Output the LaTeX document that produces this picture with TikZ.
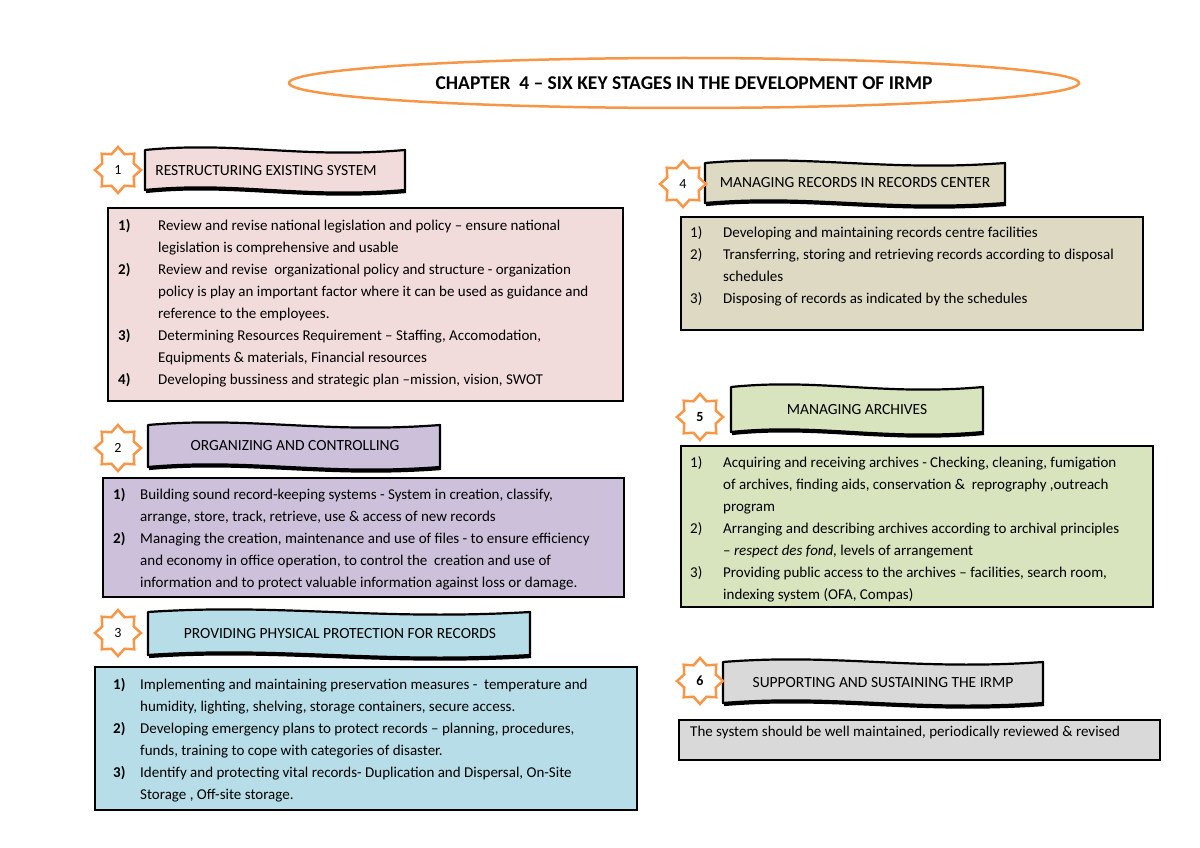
\documentclass[tikz,border=0pt]{standalone}
\usepackage{fontspec}
\setmainfont{Carlito}
\usetikzlibrary{shapes.geometric}
\definecolor{orng}{HTML}{F79646}
\definecolor{cA}{HTML}{F2DCDB}
\definecolor{cB}{HTML}{CCC0DA}
\definecolor{cC}{HTML}{B7DEE8}
\definecolor{cD}{HTML}{DDD9C3}
\definecolor{cE}{HTML}{D7E4BD}
\definecolor{cF}{HTML}{D9D9D9}
\newcommand\bnr[6]{% x1 y1 x2 y2 colour name
\begin{scope}[shift={(#1,#2)}]
\pgfmathsetmacro\bw{#3-#1}\pgfmathsetmacro\bh{#4-#2}
\draw[line width=2.2pt,fill=#5,line join=round] (0,0) .. controls ({\bw*0.35},-9) and ({\bw*0.6},9) .. (\bw,0) -- (\bw,\bh) .. controls ({\bw*0.6},\bh+9) and ({\bw*0.35},\bh-9) .. (0,\bh) -- cycle;
\draw[line width=3.2pt] (1,\bh+1.5) .. controls ({\bw*0.35},\bh-7.5) and ({\bw*0.6},\bh+10.5) .. (\bw+1,\bh+1.5);
\coordinate (#6) at ({\bw/2},{\bh/2});
\end{scope}}
\tikzset{
 starn/.style={star,star points=8,star point ratio=1.35,minimum size=46pt,draw=orng,line width=2.5pt,fill=white,inner sep=0pt,font=\fontsize{14}{16}\selectfont},
 list/.style={anchor=north west,align=left,inner sep=0pt,font=\fontsize{15}{22}\selectfont},
 btxt/.style={font=\fontsize{15.5}{17}\selectfont}
}
\begin{document}
\begin{tikzpicture}[x=1pt,y=-1pt]
\useasboundingbox (0,0) rectangle (1200,848);
\node[ellipse,draw=orng,line width=2.5pt,minimum width=790pt,minimum height=50pt,font=\bfseries\fontsize{19.5}{21}\selectfont] (title) at (684,83) {CHAPTER\ \ 4 -- SIX KEY STAGES IN THE DEVELOPMENT OF IRMP};
% banners
\bnr{145}{150}{405}{190}{cA}{b1}
\node[btxt] at (266,171) {RESTRUCTURING EXISTING SYSTEM};
\bnr{148}{425}{440}{467}{cB}{b2}
\node[btxt] at (295,446) {ORGANIZING AND CONTROLLING};
\bnr{148}{612}{530}{655}{cC}{b3}
\node[btxt] at (340,634) {PROVIDING PHYSICAL PROTECTION FOR RECORDS};
\bnr{705}{163}{1005}{203}{cD}{b4}
\node[btxt] at (855,183) {MANAGING RECORDS IN RECORDS CENTER};
\bnr{731}{387}{983}{432}{cE}{b5}
\node[btxt] at (857,410) {MANAGING ARCHIVES};
\bnr{723}{662}{1043}{703}{cF}{b6}
\node[btxt] at (883,683) {SUPPORTING AND SUSTAINING THE IRMP};
% stars
\node[starn] (s1) at (118,170) {1};
\node[starn] (s2) at (118,448) {2};
\node[starn] (s3) at (118,633) {3};
\node[starn] (s4) at (683,184) {4};
\node[starn] (s5) at (700,417) {\bfseries 5};
\node[starn] (s6) at (700,681) {\bfseries 6};
% boxes
\draw[line width=1.4pt,fill=cA] (108,208) rectangle (623,401);
\node[list] (t1) at (118,215) {\begin{tabular}{@{}p{40pt}@{}l@{}}
\textbf{1)} & Review and revise national legislation and policy -- ensure national\\
 & legislation is comprehensive and usable\\
\textbf{2)} & Review and revise\ \ organizational policy and structure - organization\\
 & policy is play an important factor where it can be used as guidance and\\
 & reference to the employees.\\
\textbf{3)} & Determining Resources Requirement -- Staffing, Accomodation,\\
 & Equipments \& materials, Financial resources\\
\textbf{4)} & Developing bussiness and strategic plan --mission, vision, SWOT
\end{tabular}};
\draw[line width=1.4pt,fill=cB] (103,478) rectangle (624,597);
\node[list] (t2) at (113,484) {\begin{tabular}{@{}p{27pt}@{}l@{}}
\textbf{1)} & Building sound record-keeping systems - System in creation, classify,\\
 & arrange, store, track, retrieve, use \& access of new records\\
\textbf{2)} & Managing the creation, maintenance and use of files - to ensure efficiency\\
 & and economy in office operation, to control the\ \ creation and use of\\
 & information and to protect valuable information against loss or damage.
\end{tabular}};
\draw[line width=1.4pt,fill=cC] (95,667) rectangle (637,810);
\node[list] (t3) at (113,674) {\begin{tabular}{@{}p{27pt}@{}l@{}}
\textbf{1)} & Implementing and maintaining preservation measures -\ \ temperature and\\
 & humidity, lighting, shelving, storage containers, secure access.\\
\textbf{2)} & Developing emergency plans to protect records -- planning, procedures,\\
 & funds, training to cope with categories of disaster.\\
\textbf{3)} & Identify and protecting vital records- Duplication and Dispersal, On-Site\\
 & Storage , Off-site storage.
\end{tabular}};
\draw[line width=1.4pt,fill=cD] (681,217) rectangle (1143,330);
\node[list] (t4) at (690,222) {\begin{tabular}{@{}p{33pt}@{}l@{}}
1) & Developing and maintaining records centre facilities\\
2) & Transferring, storing and retrieving records according to disposal\\
 & schedules\\
3) & Disposing of records as indicated by the schedules
\end{tabular}};
\draw[line width=1.4pt,fill=cE] (681,446) rectangle (1153,607);
\node[list] (t5) at (690,452) {\begin{tabular}{@{}p{33pt}@{}l@{}}
1) & Acquiring and receiving archives - Checking, cleaning, fumigation\\
 & of archives, finding aids, conservation \&\ \ reprography ,outreach\\
 & program\\
2) & Arranging and describing archives according to archival principles\\
 & -- \textit{respect des fond,} levels of arrangement\\
3) & Providing public access to the archives -- facilities, search room,\\
 & indexing system (OFA, Compas)
\end{tabular}};
\draw[line width=1.4pt,fill=cF] (679,720) rectangle (1160,760);
\node[list] (t6) at (690,726) {The system should be well maintained, periodically reviewed \& revised};
\end{tikzpicture}
\end{document}
